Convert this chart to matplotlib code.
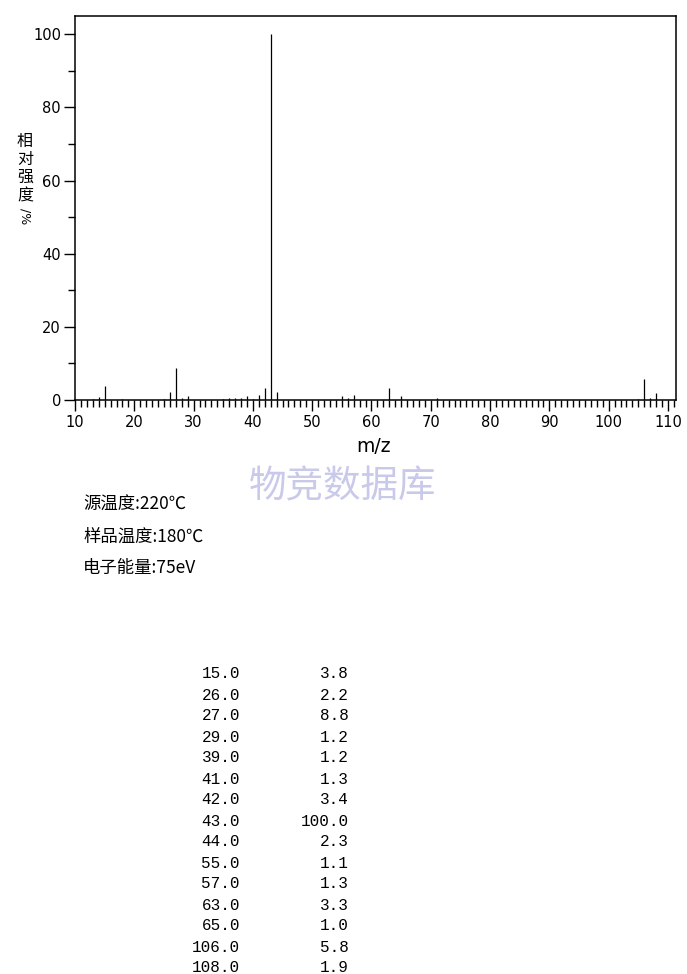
import matplotlib
matplotlib.use("Agg")
import matplotlib.pyplot as plt
from matplotlib.ticker import MultipleLocator

plt.rcParams['font.family'] = 'DejaVu Sans'

# Spectrum data (m/z, relative intensity %)
mz = [13, 14, 15, 18, 25, 26, 27, 28, 29, 35, 36, 37, 38, 39, 40, 41, 42, 43, 44,
      55, 56, 57, 63, 65, 71, 105, 106, 107, 108]
intensity = [0.4, 0.8, 3.8, 0.3, 0.4, 2.2, 8.8, 0.6, 1.2, 0.4, 0.5, 0.5, 0.6, 1.2, 0.3,
             1.3, 3.4, 100.0, 2.3, 1.1, 0.6, 1.3, 3.3, 1.0, 0.6, 0.3, 5.8, 0.5, 1.9]

# Peak table
table_mz = [15.0, 26.0, 27.0, 29.0, 39.0, 41.0, 42.0, 43.0, 44.0, 55.0, 57.0, 63.0,
            65.0, 106.0, 108.0]
table_int = [3.8, 2.2, 8.8, 1.2, 1.2, 1.3, 3.4, 100.0, 2.3, 1.1, 1.3, 3.3, 1.0, 5.8, 1.9]

conditions = ["源温度:220℃", "样品温度:180℃", "电子能量:75eV"]
watermark = "物竞数据库"

W, H = 687, 974
fig = plt.figure(figsize=(W / 100, H / 100), dpi=100)
ax = fig.add_axes([75 / W, 1 - 400 / H, (675.7 - 75) / W, (400 - 16) / H])

ax.vlines(mz, 0, intensity, color='black', linewidth=0.9)
ax.set_xlim(10, 111.3)
ax.set_ylim(0, 105)

ax.xaxis.set_major_locator(MultipleLocator(10))
ax.xaxis.set_minor_locator(MultipleLocator(1))
ax.yaxis.set_major_locator(MultipleLocator(20))
ax.yaxis.set_minor_locator(MultipleLocator(10))
ax.tick_params(axis='both', which='major', length=8, width=1, direction='out',
               labelsize=10.5, colors='black')
ax.tick_params(axis='both', which='minor', length=5, width=1, direction='out')
ax.tick_params(axis='x', which='major', pad=3)
ax.tick_params(axis='y', which='major', pad=2)
for s in ax.spines.values():
    s.set_linewidth(1.1)

ax.set_xlabel("m/z", fontsize=13.5)
ax.xaxis.set_label_coords((374 - 75) / (675.7 - 75), -(447 - 400) / 384)
ax.xaxis.label.set_va('center')

# vertical y label: stacked characters
ylab_chars = ["相", "对", "强", "度"]
for i, ch in enumerate(ylab_chars):
    fig.text(25 / W, 1 - (141 + i * 18.3) / H, ch, fontsize=11.5,
             family=['Noto Sans CJK SC'], ha='center', va='center')
fig.text(25 / W, 1 - 216 / H, "/%", fontsize=9, family=['DejaVu Sans'],
         ha='center', va='center', rotation=-90)

# watermark
fig.text(343 / W, 1 - 487 / H, watermark, fontsize=27, color='#c9c9ea',
         family=['Noto Sans CJK SC'], ha='center', va='center')

# conditions
for i, t in enumerate(conditions):
    fig.text(83 / W, 1 - (505 + i * 31.5) / H, t, fontsize=12.5,
             family=['Noto Sans CJK SC', 'DejaVu Sans'], ha='left', va='center')

# table
for i, (a, b) in enumerate(zip(table_mz, table_int)):
    y = 1 - (674 + i * 21) / H
    fig.text(240 / W, y, f"{a:.1f}", fontsize=11.5, family=['Liberation Mono'],
             ha='right', va='center')
    fig.text(349 / W, y, f"{b:.1f}", fontsize=11.5, family=['Liberation Mono'],
             ha='right', va='center')

fig.savefig("out.png", dpi=100)
